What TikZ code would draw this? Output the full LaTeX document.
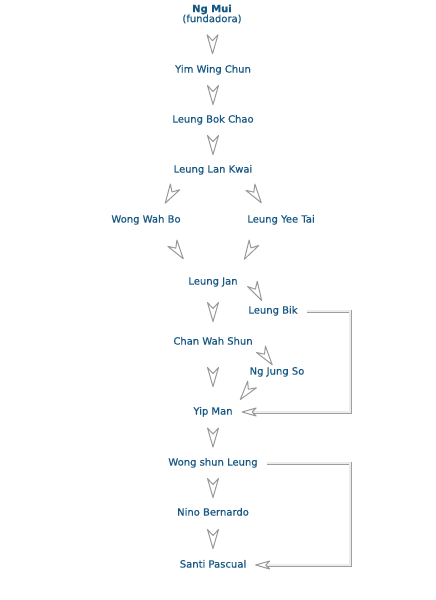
\documentclass[tikz,border=0pt]{standalone}
\usepackage{fontspec}
\setmainfont{DejaVu Sans}
\newfontfamily\namefont{DejaVu Sans}[FakeBold=0.6]
\definecolor{namecol}{RGB}{24,88,132}

\begin{document}
\begin{tikzpicture}[x=1pt,y=1pt,
  person/.style={text=namecol,font=\namefont\fontsize{10}{12}\selectfont,text height=7.6pt,text depth=2.4pt,inner sep=3.33pt},
  tipline/.style={draw=gray!80,line width=1pt,fill=white,line join=round},
  link/.style={draw=gray!75,line width=.9pt,double=gray!15,double distance=1.2pt},
  tip/.pic={\path[tipline] (9.5,0) -- (-9.5,5.5) -- (-3.5,0) -- (-9.5,-5.5) -- cycle;},
  endtip/.pic={\path[tipline] (6,0) -- (20,4) -- (16,0) -- (20,-4) -- cycle;}]
  \useasboundingbox (0,0) rectangle (436,-600);

  \node[text=namecol,align=center,font=\namefont\fontsize{10}{10}\selectfont] (ngmui) at (212,-14) {\textbf{Ng Mui}\\(fundadora)};
  \node[person] (yim) at (213,-70) {Yim Wing Chun};
  \node[person] (bokchao) at (213,-120) {Leung Bok Chao};
  \node[person] (lankwai) at (213,-170) {Leung Lan Kwai};
  \node[person] (wahbo) at (146,-220) {Wong Wah Bo};
  \node[person] (yeetai) at (281,-220) {Leung Yee Tai};
  \node[person] (leungjan) at (213,-282) {Leung Jan};
  \node[person] (bik) at (273,-311) {Leung Bik};
  \node[person] (chan) at (213,-342) {Chan Wah Shun};
  \node[person] (ngjungso) at (277,-372) {Ng Jung So};
  \node[person] (yipman) at (213,-412) {Yip Man};
  \node[person] (wongshun) at (213,-463) {Wong shun Leung};
  \node[person] (nino) at (213,-513) {Nino Bernardo};
  \node[person] (santi) at (213,-565) {Santi Pascual};
  \coordinate (rail) at (350,0);

  % straight down
  \path (ngmui) -- pic[midway,rotate=-90]{tip} (yim);
  \path (yim) -- pic[midway,rotate=-90]{tip} (bokchao);
  \path (bokchao) -- pic[midway,rotate=-90]{tip} (lankwai);
  \path (leungjan) -- pic[midway,rotate=-90]{tip} (chan);
  \path (chan) -- pic[midway,rotate=-90]{tip} (yipman);
  \path (yipman) -- pic[midway,rotate=-90]{tip} (wongshun);
  \path (wongshun) -- pic[midway,rotate=-90]{tip} (nino);
  \path (nino) -- pic[midway,rotate=-90]{tip} (santi);

  \path (lankwai.south west) -- pic[midway,rotate=-121]{tip} (lankwai.south west|-wahbo.north);
  \path (lankwai.south east) -- pic[midway,rotate=-55]{tip} (lankwai.south east|-yeetai.north);
  \path (wahbo.-15) -- pic[midway,rotate=-55]{tip} (wahbo.-15|-leungjan.north);
  \path (yeetai.-165) -- pic[midway,rotate=-120]{tip} (yeetai.-165|-leungjan.north);
  \path (leungjan.east) -- pic[midway,rotate=-61]{tip} (bik.north);
  \path (chan.south east) -- pic[midway,rotate=-54]{tip} (ngjungso.north);
  \path (ngjungso.south west) -- pic[midway,rotate=-128]{tip} (ngjungso.south west|-yipman.north);

  \draw[link,shorten <=6pt,shorten >=16pt] (bik.east) -- (bik.east-|rail) -- (rail|-yipman) -- (yipman.east);
  \path (yipman.east) pic{endtip};
  \draw[link,shorten <=6pt,shorten >=16pt] (wongshun.east) -- (wongshun.east-|rail) -- (rail|-santi) -- (santi.east);
  \path (santi.east) pic{endtip};
\end{tikzpicture}
\end{document}
